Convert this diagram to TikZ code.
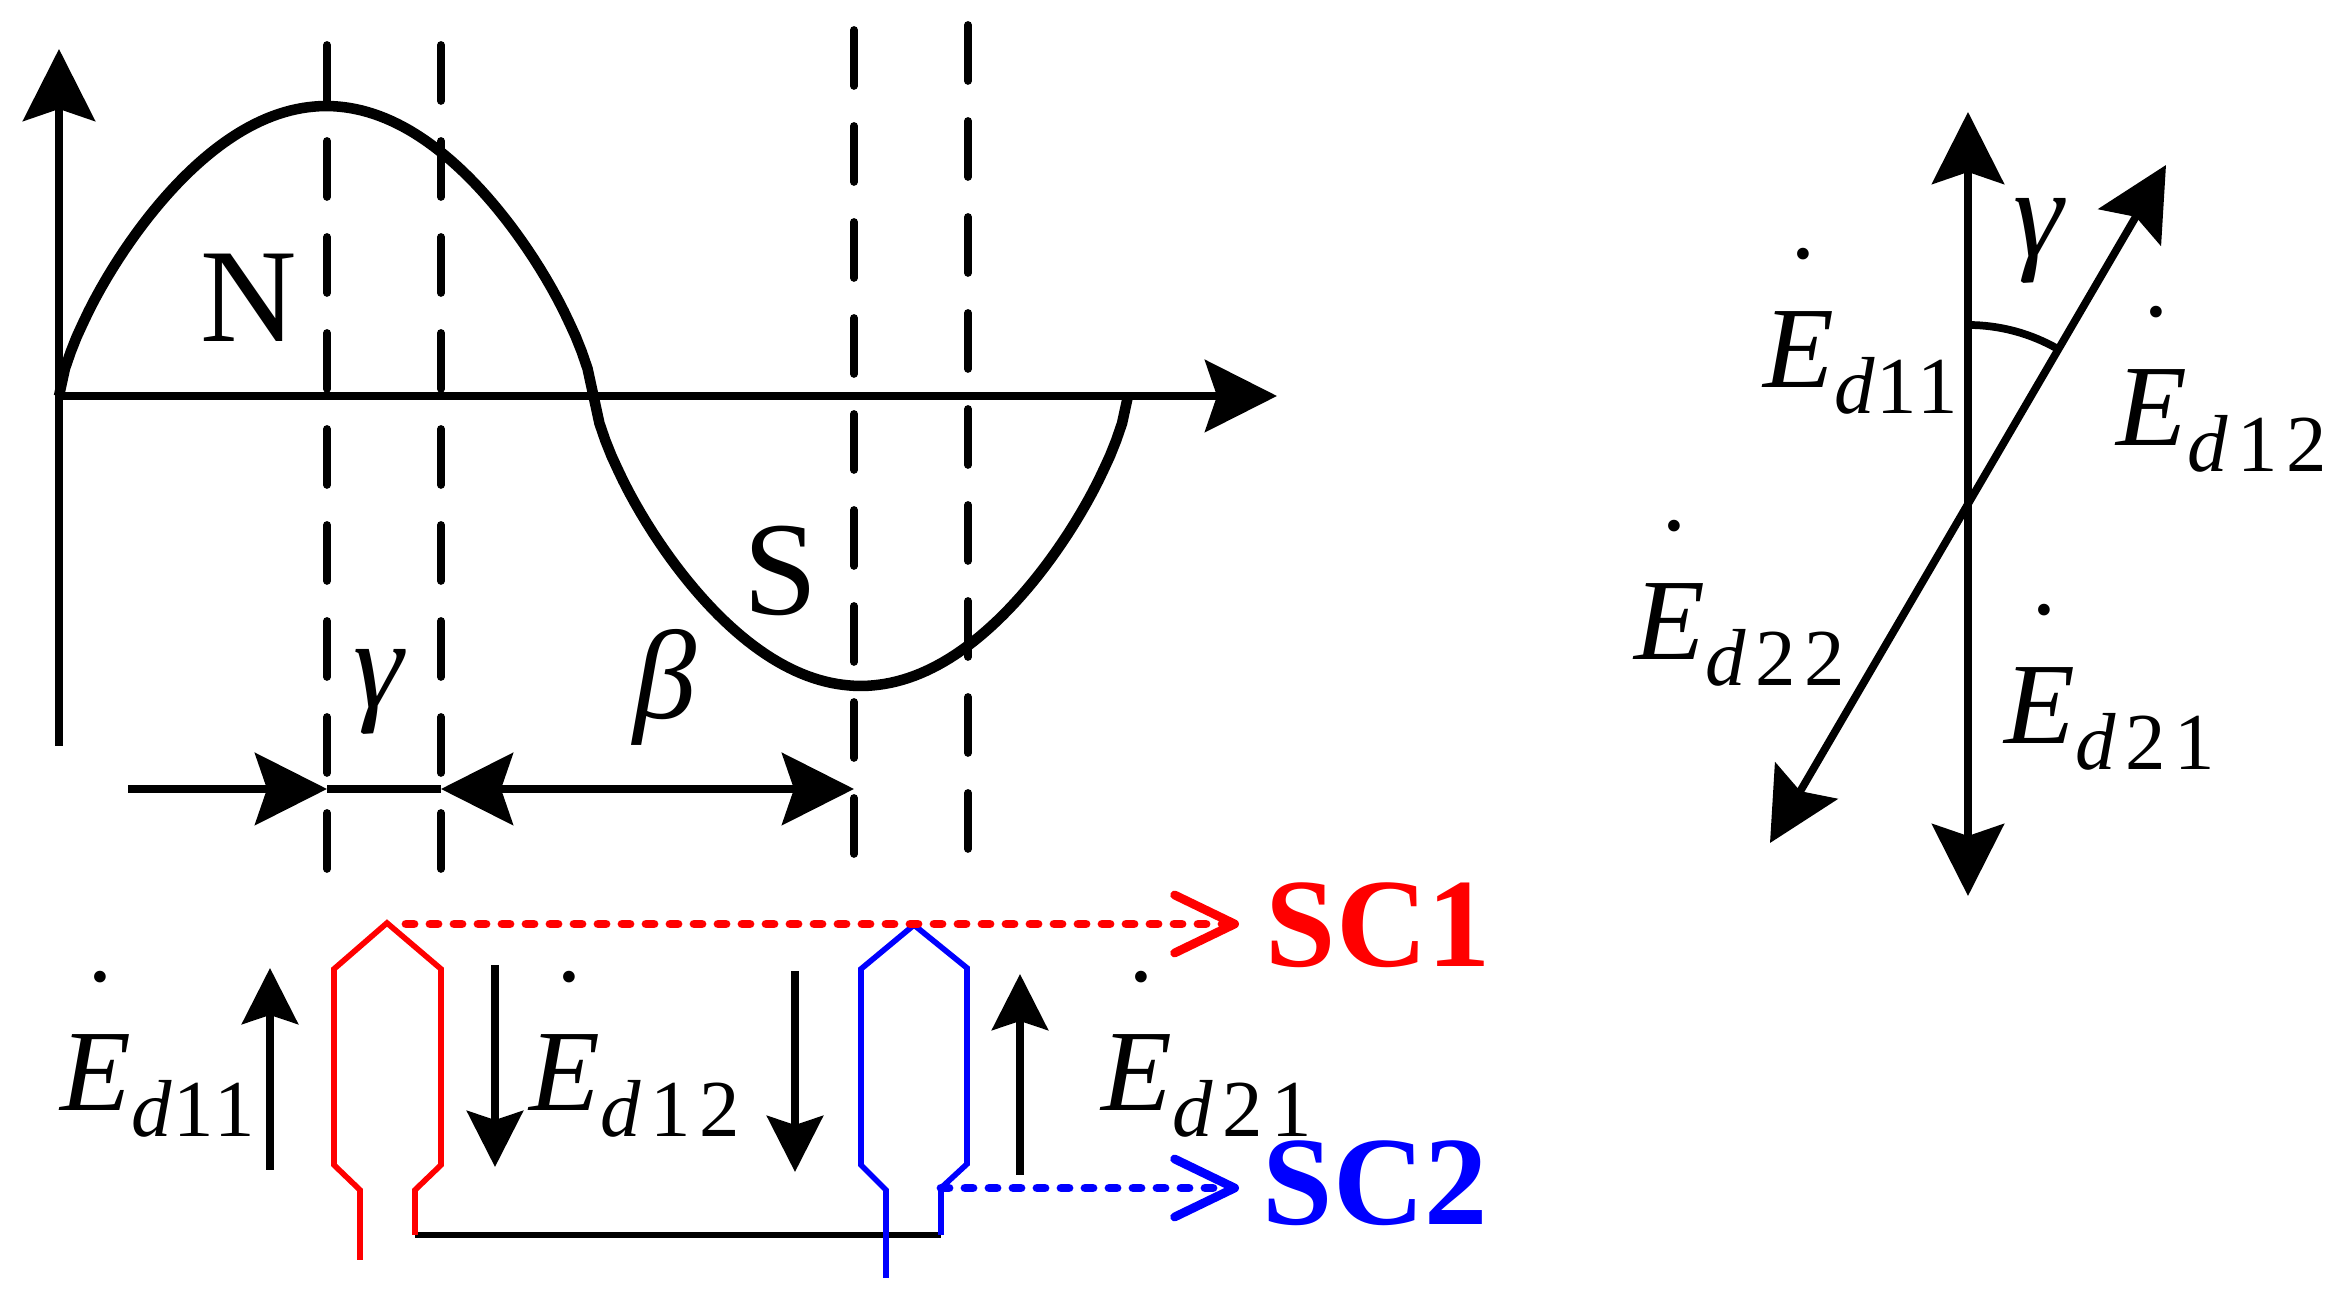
\documentclass[tikz,border=0pt]{standalone}
\usepackage{fontspec}
\setmainfont{Liberation Serif}
\usetikzlibrary{arrows.meta}

\newcommand{\Ed}[3][0cm]{\fontsize{33}{33}\selectfont\itshape\rlap{\hspace{0.30cm}\raisebox{1.29cm}{\fontsize{28}{28}\selectfont .}}E\raisebox{-0.26cm}{\fontsize{23}{23}\selectfont d\hspace{0.02cm}\hspace{#1}\upshape #2\hspace{#1}#3}}

\begin{document}
\begin{tikzpicture}
	\tikzstyle{every node}=[inner sep=0pt, anchor=base west]
	\tikzstyle{bighead}=[-{Stealth[length=0.72cm, width=0.72cm, inset=0.12cm]}]
	\tikzstyle{bothheads}=[{Stealth[length=0.72cm, width=0.72cm, inset=0.12cm]}-{Stealth[length=0.72cm, width=0.72cm, inset=0.12cm]}]
	\tikzstyle{smallhead}=[-{Stealth[length=0.56cm, width=0.56cm, inset=0.09cm]}]
	\tikzstyle{axisline}=[line width=2.2pt]
	\tikzstyle{guide}=[line width=2.2pt, line cap=round, dash pattern=on 0.56cm off 0.40cm]
	\tikzstyle{coil}=[line width=1.6pt]
	\tikzstyle{lead}=[line width=2.5pt, line cap=round, dash pattern=on 0.08cm off 0.16cm, -{Straight Barb[length=0.6cm, width=0.58cm, round, line cap=round]}]
	\tikzstyle{bigtext}=[font=\fontsize{38}{38}\selectfont]
	\tikzstyle{greek}=[font=\fontsize{36}{36}\selectfont\itshape]
	\tikzstyle{sctext}=[font=\fontsize{36}{36}\selectfont\bfseries]

	\useasboundingbox (0,0) rectangle (23.49,12.96);

	% waveform
	\draw [axisline, bighead] (0.59,5.50) -- (0.59,12.47);
	\draw [axisline, bighead] (0.59,9.00) -- (12.77,9.00);
	\draw [line width=3pt] plot [domain=0:360, samples=181] ({0.59+\x/360*10.69},{9.00+2.9*sin(\x)*pow(abs(sin(\x))+0.001,-0.3)});

	% pole centre lines
	\draw [guide] (3.27,12.51) -- (3.27,4.21);
	\draw [guide] (4.41,12.51) -- (4.41,4.21);
	\draw [guide] (8.54,12.66) -- (8.54,4.35);
	\draw [guide] (9.68,12.71) -- (9.68,4.41);

	\node [bigtext] (northpole) at (2.00,9.54) {N};
	\node [bigtext] (southpole) at (7.43,6.81) {S};
	\node [greek] (gammaleft) at (3.53,5.88) {γ};
	\node [greek] (betaleft) at (6.33,5.77) {β};

	% spans between the lines
	\coordinate (spanstart) at (1.28,5.07);
	\coordinate (spana) at (3.27,5.07);
	\coordinate (spanb) at (4.41,5.07);
	\coordinate (spanc) at (8.54,5.07);
	\draw [axisline, bighead] (spanstart) -- (spana);
	\draw [axisline] (spana) -- (spanb);
	\draw [axisline, bothheads] (spanb) -- (spanc);

	% windings
	\draw [coil] (4.15,0.61) -- (9.41,0.61);
	\draw [coil, red] (3.60,0.36) -- (3.60,1.06) -- (3.34,1.31) -- (3.34,3.27) -- (3.87,3.73) -- (4.41,3.27) -- (4.41,1.31) -- (4.15,1.06) -- (4.15,0.61);
	\draw [coil, blue] (8.86,0.18) -- (8.86,1.06) -- (8.61,1.31) -- (8.61,3.27) -- (9.14,3.71) -- (9.67,3.28) -- (9.67,1.32) -- (9.41,1.08) -- (9.41,0.61);

	\node [sctext, text=red] (scone) at (12.65,3.29) {SC1};
	\node [sctext, text=blue] (sctwo) at (12.62,0.71) {SC2};
	\draw [lead, red] (4.06,3.72) -- (12.39,3.72);
	\draw [lead, blue] (9.41,1.08) -- (12.39,1.08);

	\draw [axisline, smallhead] (2.70,1.26) -- (2.70,3.28);
	\draw [axisline, smallhead] (4.95,3.31) -- (4.95,1.29);
	\draw [axisline, smallhead] (7.95,3.25) -- (7.95,1.24);
	\draw [axisline, smallhead] (10.20,1.21) -- (10.20,3.22);

	\node (lowone) at (0.60,1.85) {\Ed{1}{1}};
	\node (lowtwo) at (5.29,1.85) {\Ed[0.08cm]{1}{2}};
	\node (lowthree) at (11.01,1.85) {\Ed[0.08cm]{2}{1}};

	% phasors
	\coordinate (phasortop) at (19.68,11.84);
	\coordinate (phasorbottom) at (19.68,4.00);
	\coordinate (phasorright) at (21.66,11.31);
	\coordinate (phasorleft) at (17.70,4.53);
	\draw [axisline, bothheads] (phasorbottom) -- (phasortop);
	\draw [axisline, bothheads] (phasorleft) -- (phasorright);
	\draw [axisline] (19.68,9.71) arc (90:60:1.80);

	\node [greek] (gammaright) at (20.13,10.39) {γ};
	\node (phasorone) at (17.63,9.08) {\Ed{1}{1}};
	\node (phasortwo) at (21.16,8.50) {\Ed[0.08cm]{1}{2}};
	\node (phasorthree) at (16.34,6.36) {\Ed[0.08cm]{2}{2}};
	\node (phasorfour) at (20.04,5.52) {\Ed[0.08cm]{2}{1}};
\end{tikzpicture}
\end{document}
